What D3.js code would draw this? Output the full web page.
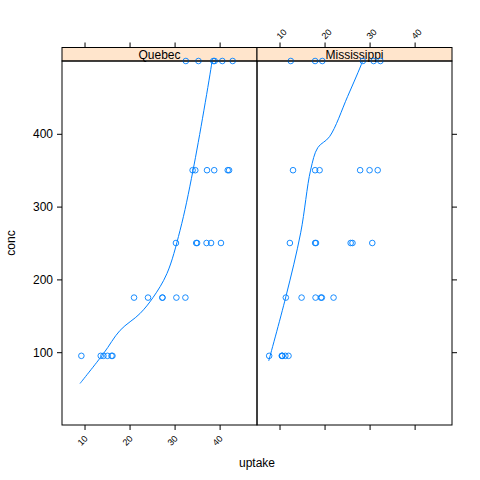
<!DOCTYPE html><html><head><script src="https://cdn.jsdelivr.net/npm/d3@7"></script>
<style>body{margin:0}text{font-family:"Liberation Sans",Arial,sans-serif}</style></head><body>
<svg id="c" width="480" height="480"></svg>
<script>
const panels=["Quebec","Mississippi"];
const concLevels=[95,175,250,350,500,675,1000];
const uptakeQuebec=[[16.0,30.4,34.8,37.2,35.3,39.2,39.7],[13.6,27.3,37.1,41.8,40.6,41.4,44.3],[16.2,32.4,40.3,42.1,42.9,43.9,45.5],[14.2,24.1,30.3,34.6,32.5,35.4,38.7],[9.3,27.3,35.0,38.8,38.6,37.5,42.4],[15.1,21.0,38.1,34.0,38.9,39.6,41.4]];
const uptakeMississippi=[[10.6,19.2,26.2,30.0,30.9,32.4,35.5],[12.0,22.0,30.6,31.8,32.4,31.1,31.5],[11.3,19.4,25.8,27.9,28.5,28.1,27.8],[10.5,14.9,18.1,18.9,19.5,22.2,21.9],[7.7,11.4,12.3,13.0,12.5,13.7,14.4],[10.6,18.0,17.9,17.9,17.9,18.9,19.9]];
const smoothQuebec=[[9.0,57],[14.2,98],[17.9,130],[22.3,153],[25.2,175],[28.3,208],[31.2,267],[34.1,350],[38.3,499],[38.5,510]];
const smoothMississippi=[[7.6,88],[11.4,176],[14.7,264],[16.9,350],[18.5,381],[21.1,396],[25.1,451],[28.4,499],[28.7,505]];
const xTicks=[10,20,30,40], yTicks=[100,200,300,400];
const svg=d3.select("#c");
const pTop=61,pBottom=425,pw=195,lefts=[62,257];
const y=d3.scaleLinear().domain([0,500]).range([pBottom,pTop]);
const col="#0080ff";
const data=[uptakeQuebec,uptakeMississippi], sm=[smoothQuebec,smoothMississippi];
svg.append("defs").append("clipPath").attr("id","cp").append("rect").attr("x",62).attr("y",pTop).attr("width",390).attr("height",pBottom-pTop);
panels.forEach((p,i)=>{
  const L=lefts[i];
  const x=d3.scaleLinear().domain([5,48.3]).range([L,L+pw]);
  const g=svg.append("g");
  g.append("rect").attr("x",L).attr("y",47.5).attr("width",pw).attr("height",13.5).attr("fill","#ffe5cc").attr("stroke","black");
  g.append("text").attr("x",L+pw/2).attr("y",58.5).attr("text-anchor","middle").attr("font-size",12).text(p);
  const pts=[];
  data[i].forEach(pl=>pl.forEach((u,j)=>{if(concLevels[j]<=500)pts.push([u,concLevels[j]]);}));
  g.selectAll("circle").data(pts).join("circle").attr("cx",d=>x(d[0])).attr("cy",d=>y(d[1])).attr("r",2.8).attr("fill","none").attr("stroke",col).attr("stroke-width",0.9);
  g.append("path").attr("clip-path","url(#cp)").attr("d",d3.line().curve(d3.curveCatmullRom).x(d=>x(d[0])).y(d=>y(d[1]))(sm[i])).attr("fill","none").attr("stroke",col).attr("stroke-width",1);
  g.append("rect").attr("x",L).attr("y",pTop).attr("width",pw).attr("height",pBottom-pTop).attr("fill","none").attr("stroke","black");
  if(i===0){
    const ax=g.append("g").attr("transform",`translate(0,${pBottom})`).call(d3.axisBottom(x).tickValues(xTicks).tickSize(5).tickPadding(4));
    ax.select(".domain").remove();
    ax.selectAll("text").attr("font-size",9).attr("text-anchor","middle").attr("dy",0).attr("y",0).attr("transform","translate(-2,16) rotate(-45)").attr("dominant-baseline","middle");
    const at=g.append("g").attr("transform",`translate(0,47.5)`).call(d3.axisTop(x).tickValues(xTicks).tickSize(5).tickFormat(""));
    at.select(".domain").remove();
  } else {
    const at=g.append("g").attr("transform",`translate(0,47.5)`).call(d3.axisTop(x).tickValues(xTicks).tickSize(5));
    at.select(".domain").remove();
    at.selectAll("text").attr("font-size",9).attr("text-anchor","middle").attr("y",0).attr("dy",0).attr("transform","translate(2,-13) rotate(-45)").attr("dominant-baseline","middle");
    const ab=g.append("g").attr("transform",`translate(0,${pBottom})`).call(d3.axisBottom(x).tickValues(xTicks).tickSize(5).tickFormat(""));
    ab.select(".domain").remove();
  }
});
const ay=svg.append("g").attr("transform","translate(62,0)").call(d3.axisLeft(y).tickValues(yTicks).tickSize(5).tickPadding(4));
ay.select(".domain").remove(); ay.selectAll("text").attr("font-size",12);
const ay2=svg.append("g").attr("transform","translate(452,0)").call(d3.axisRight(y).tickValues(yTicks).tickSize(5).tickFormat(""));
ay2.select(".domain").remove();
svg.append("text").attr("x",257).attr("y",467).attr("text-anchor","middle").attr("font-size",12).text("uptake");
svg.append("text").attr("transform","translate(15,243) rotate(-90)").attr("text-anchor","middle").attr("font-size",12).text("conc");
</script></body></html>
